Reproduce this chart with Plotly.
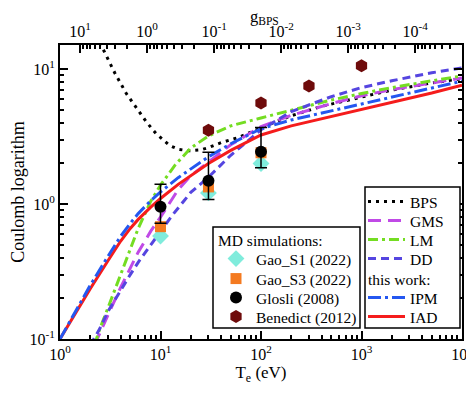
import plotly.graph_objects as go
import numpy as np

FONT = "Liberation Serif"

# ---------------- data ----------------
T_bps = [2.3, 2.7, 3.5, 4.57, 6, 7.22, 9, 12.3, 15, 19, 25, 30, 40, 60, 111, 197, 400, 1000, 2000, 5000, 10000]
L_bps = [17.8, 13.8, 9.4, 6.6, 4.95, 4.07, 3.34, 2.72, 2.55, 2.48, 2.52, 2.62, 2.85, 3.12, 3.8, 4.5, 5.3, 6.2, 7.0, 7.9, 8.5]

T_gms = [2.2, 2.5, 3, 4, 5, 6, 8, 10, 15, 20, 30, 50, 100, 200, 500, 1000, 2000, 5000, 10000]
L_gms = [0.09, 0.11, 0.15, 0.24, 0.34, 0.44, 0.63, 0.8, 1.28, 1.62, 2.05, 2.75, 3.75, 4.55, 5.55, 6.35, 7.05, 7.95, 8.6]

T_lm = [2.2, 2.5, 3, 4, 5, 6, 8, 10, 14, 20, 30, 50, 100, 200, 500, 1000, 2000, 5000, 10000]
L_lm = [0.09, 0.12, 0.17, 0.3, 0.45, 0.66, 1.05, 1.38, 1.95, 2.6, 3.2, 3.8, 4.35, 4.95, 5.9, 6.6, 7.3, 8.2, 8.9]

T_dd = [2.0, 2.5, 3, 4, 5, 6, 8, 10, 13, 17, 20, 30, 50, 100, 200, 500, 1000, 2000, 5000, 10000]
L_dd = [0.09, 0.12, 0.16, 0.23, 0.3, 0.37, 0.5, 0.62, 0.82, 1.05, 1.22, 1.58, 2.3, 3.55, 4.85, 6.25, 7.3, 8.2, 9.4, 10.2]

T_ipm = [1, 1.5, 2, 3, 4, 5, 6, 8, 10, 15, 20, 30, 50, 100, 200, 500, 1000, 2000, 5000, 10000]
L_ipm = [0.1, 0.172, 0.25, 0.41, 0.575, 0.72, 0.85, 1.06, 1.23, 1.57, 1.82, 2.24, 2.8, 3.62, 4.2, 4.9, 5.5, 6.15, 7.2, 8.15]

T_iad = [1, 1.5, 2, 3, 4, 5, 6, 8, 10, 15, 20, 30, 50, 100, 200, 500, 1000, 2000, 5000, 10000]
L_iad = [0.1, 0.166, 0.236, 0.38, 0.53, 0.66, 0.77, 0.95, 1.1, 1.4, 1.62, 2.0, 2.5, 3.25, 3.8, 4.45, 5.0, 5.65, 6.65, 7.6]

T_md = [10, 30, 100]
L_gao_s1 = [0.58, 1.21, 2.0]
L_gao_s3 = [0.68, 1.34, 2.4]
L_glosli = [0.955, 1.49, 2.44]
L_glosli_hi = [1.40, 2.42, 3.70]
L_glosli_lo = [0.72, 1.08, 1.86]

T_ben = [30, 100, 300, 1000]
L_ben = [3.53, 5.6, 7.5, 10.6]

x_ticks = [1, 10, 100, 1000, 10000]
x_ticktext = ["10<sup>0</sup>", "10<sup>1</sup>", "10<sup>2</sup>", "10<sup>3</sup>", "10<sup>4</sup>"]
y_ticks = [0.1, 1, 10]
y_ticktext = ["10<sup>-1</sup>", "10<sup>0</sup>", "10<sup>1</sup>"]
g_ticks = [10, 1, 0.1, 0.01, 0.001, 0.0001]
g_ticktext = ["10<sup>1</sup>", "10<sup>0</sup>", "10<sup>-1</sup>", "10<sup>-2</sup>", "10<sup>-3</sup>", "10<sup>-4</sup>"]

# g_BPS axis (g = 10 at T ~ 1.585, g ~ T^-1.5)
g_range = [1.3, -4.7]

# ---------------- layout helpers ----------------
OFF = 8  # page body margin of the browser
W, H = 474, 393 - OFF
ML, MR, MT, MB = 52, 20, 37, 54
PW, PH = W - ML - MR, H - MT - MB

def px_x(px):
    return (px - OFF - ML) / PW

def px_y(py):
    return (OFF + H - MB - py) / PH

def minor_vals(lo, hi):
    out = []
    for d in range(lo, hi + 1):
        for k in range(2, 10):
            out.append(k * 10.0 ** d)
    return out

LEGFONT = dict(family=FONT, size=15.5, color="black")

fig = go.Figure()

def line(T, L, name, color, dash, legend, width=3):
    fig.add_trace(go.Scatter(x=T, y=L, mode="lines", name=name,
                             line=dict(color=color, width=width, dash=dash),
                             legend=legend, hoverinfo="skip"))

line(T_bps, L_bps, "BPS", "black", "3px,5px", "legend5")
line(T_gms, L_gms, "GMS", "#c04ae6", "13px,7px", "legend6")
line(T_lm, L_lm, "LM", "#74dd22", "10px,4px,3px,4px", "legend7")
line(T_dd, L_dd, "DD", "#5545e0", "8px,5px", "legend8")
line(T_iad, L_iad, "IAD", "#f51c1c", "solid", "legend10")
line(T_ipm, L_ipm, "IPM", "#2457f0", "13px,4px,3px,4px", "legend9")

fig.add_trace(go.Scatter(x=T_md, y=L_gao_s1, mode="markers", name="Gao_S1 (2022)",
                         marker=dict(symbol="diamond", size=13, color="#80ecdc"), legend="legend"))
fig.add_trace(go.Scatter(x=T_md, y=L_gao_s3, mode="markers", name="Gao_S3 (2022)",
                         marker=dict(symbol="square", size=11, color="#f47a20"), legend="legend2"))
fig.add_trace(go.Scatter(x=T_md, y=L_glosli, mode="markers", name="Glosli (2008)",
                         marker=dict(symbol="circle", size=12, color="black"),
                         error_y=dict(type="data", symmetric=False,
                                      array=[h - v for h, v in zip(L_glosli_hi, L_glosli)],
                                      arrayminus=[v - l for v, l in zip(L_glosli, L_glosli_lo)],
                                      color="black", thickness=1.5, width=6),
                         legend="legend3"))
fig.add_trace(go.Scatter(x=T_ben, y=L_ben, mode="markers", name="Benedict (2012)",
                         marker=dict(symbol="hexagon", size=13, color="#6e0b0b"), legend="legend4"))

# dummy trace for the top axis
fig.add_trace(go.Scatter(x=[1], y=[1], xaxis="x2", yaxis="y", mode="markers",
                         marker=dict(opacity=0), showlegend=False, hoverinfo="skip"))

axfont = dict(family=FONT, size=16, color="black")
common = dict(type="log", showgrid=False, zeroline=False, showline=True, linecolor="black",
              linewidth=2, ticks="inside", ticklen=8, tickwidth=1.5, tickcolor="black",
              tickfont=axfont, automargin=False)

def minor(vals):
    return dict(tickmode="array", tickvals=vals, ticks="inside", ticklen=4,
                tickwidth=1.5, tickcolor="black", showgrid=False)

# one legend per row so row spacing matches the reference
rows = {
    "legend": (216, 259), "legend2": (216, 279), "legend3": (216, 298), "legend4": (216, 317),
    "legend5": (363, 202), "legend6": (363, 221), "legend7": (363, 240), "legend8": (363, 259),
    "legend9": (363, 298), "legend10": (363, 317),
}
legends = {}
for key, (lx, ly) in rows.items():
    legends[key] = dict(x=px_x(lx), y=px_y(ly), xanchor="left", yanchor="middle",
                        bgcolor="rgba(0,0,0,0)", borderwidth=0, font=LEGFONT,
                        itemwidth=37 if lx > 300 else 30, tracegroupgap=0)

fig.update_layout(
    width=W, height=H,
    margin=dict(l=ML, r=MR, t=MT, b=MB, autoexpand=False),
    paper_bgcolor="white", plot_bgcolor="white",
    font=dict(family=FONT, size=16, color="black"),
    xaxis=dict(**common, range=[0, 4], tickmode="array", tickvals=x_ticks, ticktext=x_ticktext,
               mirror=False, minor=minor(minor_vals(0, 3)),
               title=dict(text="T<sub>e</sub> (eV)", font=dict(family=FONT, size=17), standoff=4)),
    xaxis2=dict(**common, range=g_range, overlaying="x", side="top", anchor="y",
                tickmode="array", tickvals=g_ticks, ticktext=g_ticktext,
                minor=minor(minor_vals(-5, 1))),
    yaxis=dict(**common, range=[-1, np.log10(15.1)], tickmode="array", tickvals=y_ticks,
               ticktext=y_ticktext, mirror="ticks", minor=minor(minor_vals(-1, 0)),
               title=dict(text="Coulomb logarithm", font=dict(family=FONT, size=18), standoff=6)),
    shapes=[
        dict(type="rect", xref="paper", yref="paper", x0=px_x(213), x1=px_x(360),
             y0=px_y(328), y1=px_y(227), line=dict(color="black", width=1.5),
             fillcolor="white", layer="above"),
        dict(type="rect", xref="paper", yref="paper", x0=px_x(365), x1=px_x(460),
             y0=px_y(328), y1=px_y(187), line=dict(color="black", width=1.5),
             fillcolor="white", layer="above"),
    ],
    annotations=[
        dict(text="g<sub>BPS</sub>", xref="paper", yref="paper", x=px_x(264), y=px_y(17),
             xanchor="center", yanchor="middle", showarrow=False, borderpad=0,
             font=dict(family=FONT, size=16.5, color="black")),
        dict(text="MD simulations:", xref="paper", yref="paper", x=px_x(216), y=px_y(240),
             xanchor="left", yanchor="middle", showarrow=False, font=LEGFONT),
        dict(text="this work:", xref="paper", yref="paper", x=px_x(366), y=px_y(279),
             xanchor="left", yanchor="middle", showarrow=False, font=LEGFONT),
    ],
    showlegend=True,
    **legends,
)

fig.write_html("out.html")
